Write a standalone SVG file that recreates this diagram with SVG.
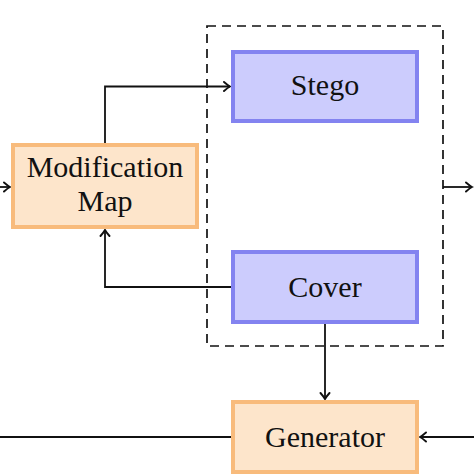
<svg xmlns="http://www.w3.org/2000/svg" width="474" height="474" viewBox="0 0 474 474">
<style>
.orange{fill:#fde5cb;stroke:#f8bb7c;stroke-width:4}
.blue{fill:#ccccfd;stroke:#8383f0;stroke-width:4}
.lbl{font-family:"Liberation Serif","Times New Roman",serif;font-size:30px;fill:#111;text-anchor:middle}
.conn{fill:none;stroke:#111;stroke-width:1.8}
</style>
<defs>
<marker id="arr" markerUnits="userSpaceOnUse" viewBox="-8 -6 10 12" refX="0" refY="0" markerWidth="10" markerHeight="12" orient="auto">
<path d="M-6,-4.5 Q-2,-1 0,0 Q-2,1 -6,4.5" fill="none" stroke="#111" stroke-width="1.9" stroke-linecap="round"/>
</marker>
</defs>
<rect id="group-box" x="207" y="26" width="236" height="320" fill="none" stroke="#111" stroke-width="1.7" stroke-dasharray="9,6"/>
<g id="connectors">
<path class="conn" d="M0,187 H10" marker-end="url(#arr)"/>
<path class="conn" d="M105,144 V86.5 H230" marker-end="url(#arr)"/>
<path class="conn" d="M232,287 H105 V230" marker-end="url(#arr)"/>
<path class="conn" d="M325,323 V399" marker-end="url(#arr)"/>
<path class="conn" d="M232,437 H0"/>
<path class="conn" d="M474,437 H420" marker-end="url(#arr)"/>
<path class="conn" d="M443,187 H472" marker-end="url(#arr)"/>
</g>
<g id="modmap">
<rect class="orange" x="13" y="145" width="184" height="82"/>
<text class="lbl" x="105" y="177">Modification</text>
<text class="lbl" x="105" y="211">Map</text>
</g>
<g id="stego">
<rect class="blue" x="233" y="52" width="184" height="69"/>
<text class="lbl" x="325" y="95">Stego</text>
</g>
<g id="cover">
<rect class="blue" x="233" y="252" width="184" height="70"/>
<text class="lbl" x="325" y="297">Cover</text>
</g>
<g id="generator">
<rect class="orange" x="233" y="402" width="184" height="70"/>
<text class="lbl" x="325" y="447">Generator</text>
</g>
</svg>
